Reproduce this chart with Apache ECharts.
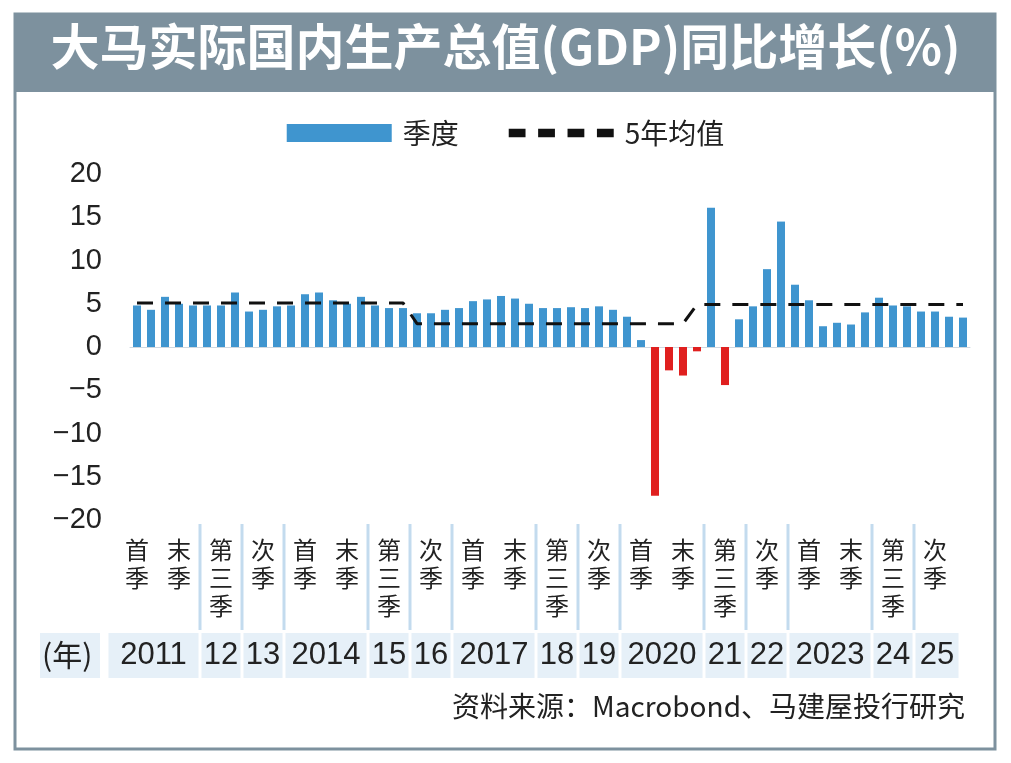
<!DOCTYPE html>
<html><head><meta charset="utf-8">
<script src="https://cdn.jsdelivr.net/npm/echarts@6/dist/echarts.min.js"></script>
<style>html,body{margin:0;padding:0;background:#fff}#c{width:1011px;height:763px}</style>
</head><body><div id="c"></div>
<script>
const quarters = [];
for (let y = 2011; y <= 2025; y++) for (let q = 1; q <= 4; q++) quarters.push(y + 'Q' + q);
const gdp = [4.8,4.3,5.8,5.0, 4.8,4.8,4.8,6.3, 4.1,4.3,4.7,4.8, 6.1,6.3,5.4,5.0,
  5.8,4.8,4.5,4.5, 3.9,3.9,4.3,4.5, 5.3,5.5,5.9,5.6, 5.0,4.5,4.5,4.6,
  4.5,4.7,4.3,3.5, 0.8,-17.2,-2.7,-3.3, -0.5,16.1,-4.4,3.2, 4.7,9.0,14.5,7.2,
  5.4,2.4,2.8,2.6, 4.0,5.7,4.8,4.7, 4.1,4.1,3.5,3.4];
const avg5 = [5.1,5.1,5.1,5.1, 5.1,5.1,5.1,5.1, 5.1,5.1,5.1,5.1, 5.1,5.1,5.1,5.1,
  5.1,5.1,5.1,5.1, 2.7,2.7,2.7,2.7, 2.7,2.7,2.7,2.7, 2.7,2.7,2.7,2.7,
  2.7,2.7,2.7,2.7, 2.7,2.7,2.7,2.7, 4.9,4.9,4.9,4.9, 4.9,4.9,4.9,4.9,
  4.9,4.9,4.9,4.9, 4.9,4.9,4.9,4.9, 4.9,4.9,4.9,4.9];
const quarterLabels = {0:'首\n季',3:'末\n季',6:'第\n三\n季',9:'次\n季',12:'首\n季',15:'末\n季',18:'第\n三\n季',21:'次\n季',
  24:'首\n季',27:'末\n季',30:'第\n三\n季',33:'次\n季',36:'首\n季',39:'末\n季',42:'第\n三\n季',45:'次\n季',
  48:'首\n季',51:'末\n季',54:'第\n三\n季',57:'次\n季'};
const yearGroups = [['2011',0,3],['12',6,6],['13',9,9],['2014',12,15],['15',18,18],['16',21,21],['2017',24,27],
  ['18',30,30],['19',33,33],['2020',36,39],['21',42,42],['22',45,45],['2023',48,51],['24',54,54],['25',57,57]];
const yTicks = [-20,-15,-10,-5,0,5,10,15,20];

const chart = echarts.init(document.getElementById('c'));
const font = '"Liberation Sans", Arial, sans-serif';
const cjk = '"Noto Sans CJK SC", sans-serif';
chart.setOption({
  animation: false,
  graphic: [
    {type:'rect', shape:{x:15,y:14,width:980,height:735}, style:{fill:'#fff', stroke:'#7d919e', lineWidth:3}},
    {type:'rect', shape:{x:14,y:13,width:982,height:79}, style:{fill:'#7d919e'}},
    {type:'text', left:'center', top:22, style:{text:'大马实际国内生产总值(GDP)同比增长(%)', fill:'#fff', font:'bold 49px '+cjk}},
    {type:'text', right:46, top:692, style:{text:'资料来源：Macrobond、马建屋投行研究', fill:'#222', font:'28px '+cjk}}
  ],
  legend: {top:114, left:'center', itemWidth:105, itemHeight:18, itemGap:50,
    textStyle:{fontSize:28, color:'#222', fontFamily:cjk, padding:[0,0,0,6]},
    data:[{name:'季度', icon:'rect'}, {name:'5年均值', icon:'path://M0,0H8V4H0Z M14,0H22V4H14Z M28,0H36V4H28Z M42,0H50V4H42Z'}]},
  grid: {left:130, right:41, top:174, bottom:243},
  xAxis: {type:'category', data:quarters, boundaryGap:true,
    axisLine:{onZero:true, lineStyle:{color:'#cfd8e0'}}, axisTick:{show:false},
    axisLabel:{interval:0, formatter:(v,i)=>quarterLabels[i]||'', lineHeight:28, fontSize:24,
      color:'#222', fontFamily:cjk, margin:16}},
  yAxis: {type:'value', min:-20, max:20, interval:5, splitLine:{show:false}, axisLine:{show:false}, axisTick:{show:false},
    axisLabel:{fontSize:29, color:'#222', fontFamily:font, margin:28, formatter:v=>yTicks.includes(v)?String(v).replace('-','−'):''}},
  series: [
    {name:'季度', type:'bar', data:gdp, barWidth:8, itemStyle:{color:p=>p.value<0?'#e0201f':'#3f95cf'}, color:'#3f95cf'},
    {name:'5年均值', type:'line', data:avg5, symbol:'none', color:'#111', lineStyle:{color:'#111', width:3, type:[16,12]}}
  ]
});
function px(i){ return chart.convertToPixel({xAxisIndex:0}, quarters[i]); }
const g = chart.getOption().graphic[0].elements.slice();
const bands = [];
const bandY = 633, bandH = 45;
bands.push({type:'rect', shape:{x:40,y:bandY,width:60,height:bandH}, style:{fill:'#e6f0f8'}});
bands.push({type:'text', x:42, y:bandY+7, style:{text:'(年)', fill:'#222', font:'30px '+cjk}});
yearGroups.forEach((gr, k) => {
  const next = yearGroups[k+1];
  const prev = yearGroups[k-1];
  const left = prev ? (px(prev[2]) + px(gr[1]))/2 : px(gr[1]) - 30;
  const right = next ? (px(gr[2]) + px(next[1]))/2 : px(gr[2]) + 25;
  bands.push({type:'rect', shape:{x:left+1.5,y:bandY,width:right-left-3,height:bandH}, style:{fill:'#e6f0f8'}});
  bands.push({type:'text', x:(left+right)/2, y:bandY+bandH/2, style:{text:gr[0], fill:'#222', font:'31px "Liberation Sans Narrow", '+font, align:'center', verticalAlign:'middle'}});
  if (next) bands.push({type:'rect', shape:{x:right-1.5,y:524,width:3,height:106}, style:{fill:'#c3dbee'}});
});
chart.setOption({graphic: g.concat(bands)}, {replaceMerge:['graphic']});
</script>
</body></html>
